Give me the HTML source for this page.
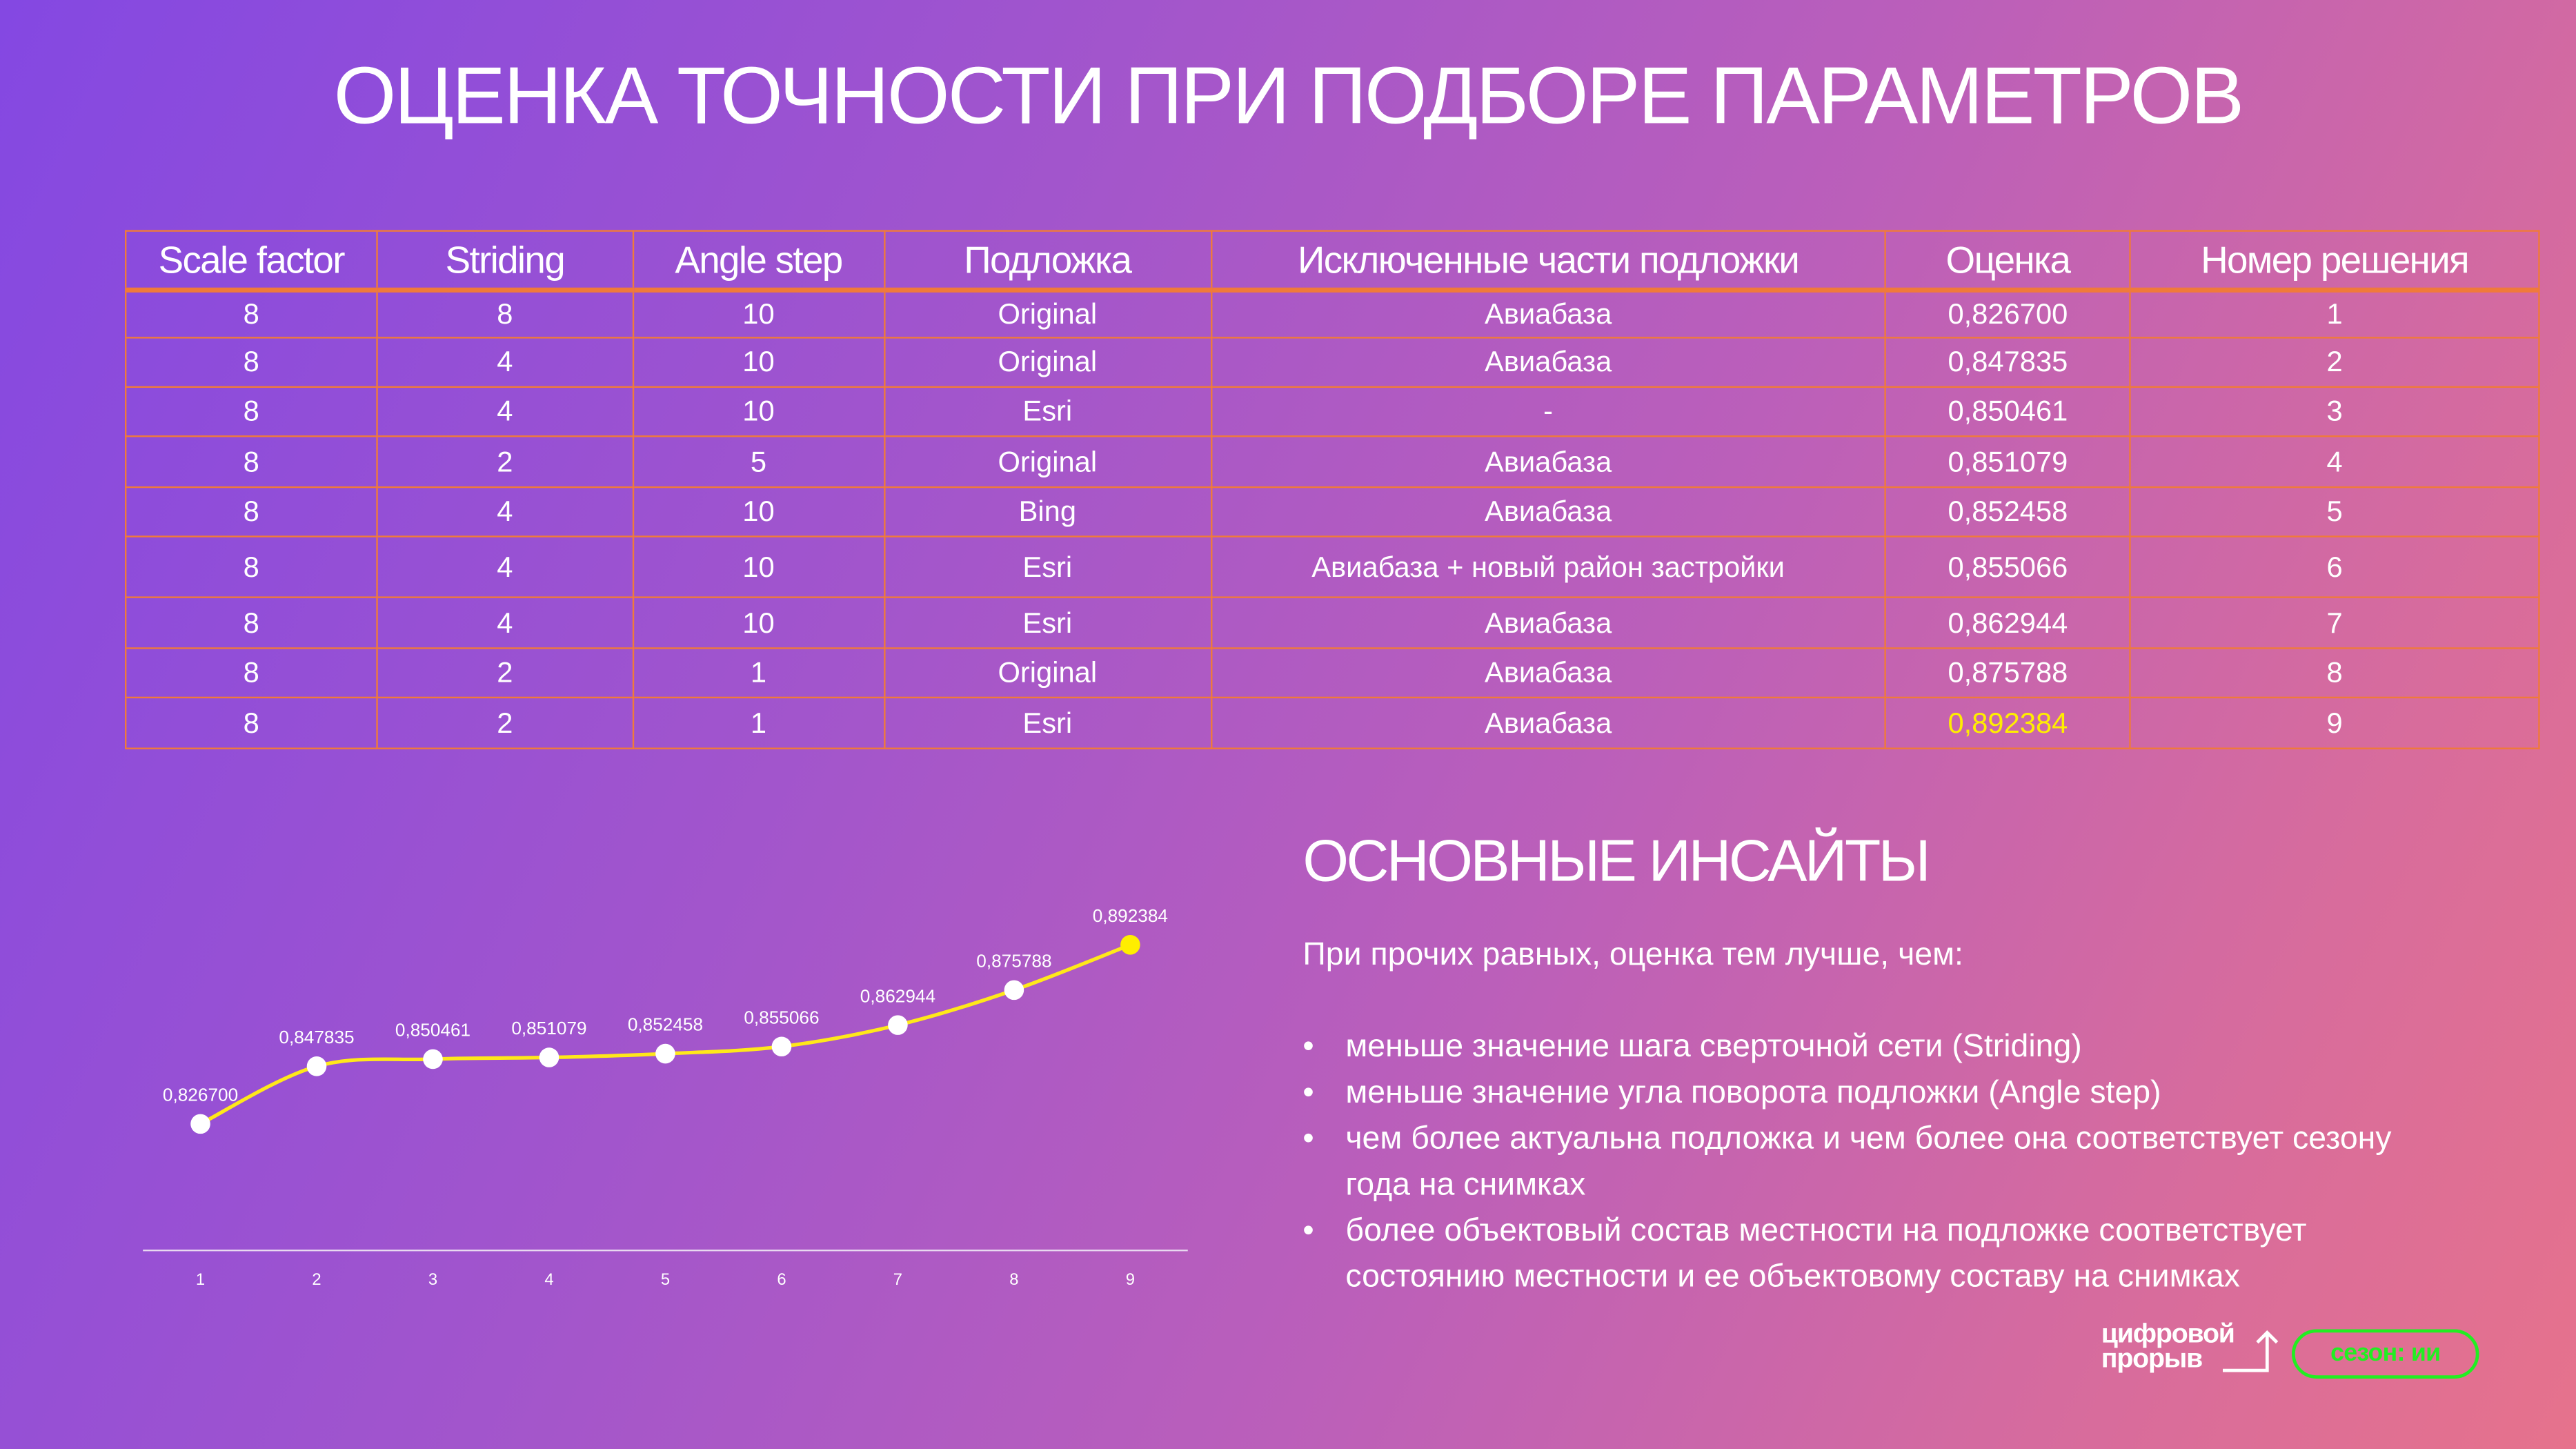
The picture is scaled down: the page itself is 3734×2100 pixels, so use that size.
<!DOCTYPE html>
<html><head><meta charset="utf-8">
<style>
html,body{margin:0;padding:0;width:3734px;height:2100px;overflow:hidden}
#bg{position:absolute;left:0;top:0;width:3734px;height:2100px;background:linear-gradient(115deg,#8448e2 0%,#a255cc 35%,#bb5fba 60%,#d86c9c 85%,#e6728c 100%)}
#stage{position:absolute;left:0;top:0;width:1568px;height:882px;transform:scale(2.38138);transform-origin:0 0;font-family:"Liberation Sans","DejaVu Sans",sans-serif;color:#fff}
h1{position:absolute;left:0;width:1568px;top:31px;margin:0;text-align:center;font-weight:400;font-size:49px;letter-spacing:-1.2px}
table{position:absolute;left:76px;top:140px;width:1470px;border-collapse:collapse}
td,th{border:1.5px solid #f07a3a;text-align:center;font-weight:300;font-size:17.5px;padding:0;color:#fff}
th{font-size:23px;font-weight:400;height:34px;border-bottom:3px solid #f07a3a;letter-spacing:-0.7px}
.yl{color:#ffee00}
h2{position:absolute;left:793px;top:503px;margin:0;font-weight:400;font-size:36px;letter-spacing:-1.5px}
.p{position:absolute;left:793px;font-size:19.5px;font-weight:300;line-height:28px}
ul{position:absolute;left:793px;top:623px;margin:0;padding:0;list-style:none;font-size:19.5px;line-height:28px;width:700px}
li{position:relative;padding-left:26px}
li:before{content:"•";position:absolute;left:0}
</style></head><body>
<div id="bg"></div>
<div id="stage">
<h1>ОЦЕНКА ТОЧНОСТИ ПРИ ПОДБОРЕ ПАРАМЕТРОВ</h1>
<table>
<colgroup><col style="width:153px"><col style="width:156px"><col style="width:153px"><col style="width:199px"><col style="width:411px"><col style="width:149px"><col style="width:249px"></colgroup>
<tr><th>Scale factor</th><th>Striding</th><th>Angle step</th><th>Подложка</th><th>Исключенные части подложки</th><th>Оценка</th><th>Номер решения</th></tr>
<tr style="height:29px"><td>8</td><td>8</td><td>10</td><td>Original</td><td>Авиабаза</td><td>0,826700</td><td>1</td></tr>
<tr style="height:30px"><td>8</td><td>4</td><td>10</td><td>Original</td><td>Авиабаза</td><td>0,847835</td><td>2</td></tr>
<tr style="height:30px"><td>8</td><td>4</td><td>10</td><td>Esri</td><td>-</td><td>0,850461</td><td>3</td></tr>
<tr style="height:31px"><td>8</td><td>2</td><td>5</td><td>Original</td><td>Авиабаза</td><td>0,851079</td><td>4</td></tr>
<tr style="height:30px"><td>8</td><td>4</td><td>10</td><td>Bing</td><td>Авиабаза</td><td>0,852458</td><td>5</td></tr>
<tr style="height:37px"><td>8</td><td>4</td><td>10</td><td>Esri</td><td>Авиабаза + новый район застройки</td><td>0,855066</td><td>6</td></tr>
<tr style="height:31px"><td>8</td><td>4</td><td>10</td><td>Esri</td><td>Авиабаза</td><td>0,862944</td><td>7</td></tr>
<tr style="height:30px"><td>8</td><td>2</td><td>1</td><td>Original</td><td>Авиабаза</td><td>0,875788</td><td>8</td></tr>
<tr style="height:31px"><td>8</td><td>2</td><td>1</td><td>Esri</td><td>Авиабаза</td><td class="yl">0,892384</td><td>9</td></tr>
</table>

<svg id="chart" style="position:absolute;left:0;top:0" width="1568" height="882"></svg>

<h2>ОСНОВНЫЕ ИНСАЙТЫ</h2>
<div class="p" style="top:567px">При прочих равных, оценка тем лучше, чем:</div>
<ul>
<li>меньше значение шага сверточной сети (Striding)</li>
<li>меньше значение угла поворота подложки (Angle step)</li>
<li>чем более актуальна подложка и чем более она соответствует сезону года на снимках</li>
<li>более объектовый состав местности на подложке соответствует состоянию местности и ее объектовому составу на снимках</li>
</ul>

<div style="position:absolute;left:1279px;top:805px;font-weight:700;font-size:16.5px;line-height:15px;letter-spacing:-0.5px">цифровой<br>прорыв</div>
<svg style="position:absolute;left:1350px;top:808px" width="40" height="30"><path d="M3 26H30V3M24 9L30 3L36 9" stroke="#fff" stroke-width="2" fill="none"/></svg>
<div style="position:absolute;left:1395px;top:809px;width:110px;height:26px;border:2px solid #22ee22;border-radius:15px;color:#22ee22;font-weight:700;font-size:15px;line-height:26px;text-align:center;letter-spacing:-0.3px">сезон: ии</div>
</div>
<script>
const categories=["1","2","3","4","5","6","7","8","9"];
const scores=[0.826700,0.847835,0.850461,0.851079,0.852458,0.855066,0.862944,0.875788,0.892384];
const scoreLabels=["0,826700","0,847835","0,850461","0,851079","0,852458","0,855066","0,862944","0,875788","0,892384"];
const NS="http://www.w3.org/2000/svg";
const svg=document.getElementById('chart');
const x=i=>122+i*70.75;
const y=v=>684-(v-0.8267)*1659.5;
function mk(t,a){const e=document.createElementNS(NS,t);for(const k in a)e.setAttribute(k,a[k]);svg.appendChild(e);return e;}
const ax=mk('line',{x1:87,x2:723,y1:761,y2:761,stroke:'#e8d8f0','stroke-width':1});


const P=scores.map((v,i)=>[x(i),y(v)]);
let d='M'+P[0][0]+' '+P[0][1];
for(let i=0;i<P.length-1;i++){const p0=P[Math.max(0,i-1)],p1=P[i],p2=P[i+1],p3=P[Math.min(P.length-1,i+2)];
const c1=[p1[0]+(p2[0]-p0[0])/6,p1[1]+(p2[1]-p0[1])/6],c2=[p2[0]-(p3[0]-p1[0])/6,p2[1]-(p3[1]-p1[1])/6];
d+=` C${c1[0]} ${c1[1]} ${c2[0]} ${c2[1]} ${p2[0]} ${p2[1]}`;}
const ln=mk('path',{d:d,stroke:'#ffe81a','stroke-width':2.2,fill:'none'});


scores.forEach((v,i)=>{
const last=i===scores.length-1;
const c=mk('circle',{cx:x(i),cy:y(v),r:6,fill:last?'#ffee00':'#fff'});


const t=mk('text',{x:x(i),y:y(v)-14,'text-anchor':'middle','font-size':11,fill:'#fff','font-weight':300,'font-family':'Liberation Sans, sans-serif'});
t.textContent=scoreLabels[i];


const k=mk('text',{x:x(i),y:782,'text-anchor':'middle','font-size':10,fill:'#fff','font-family':'Liberation Sans, sans-serif'});
k.textContent=categories[i];


});
</script>
</body></html>
